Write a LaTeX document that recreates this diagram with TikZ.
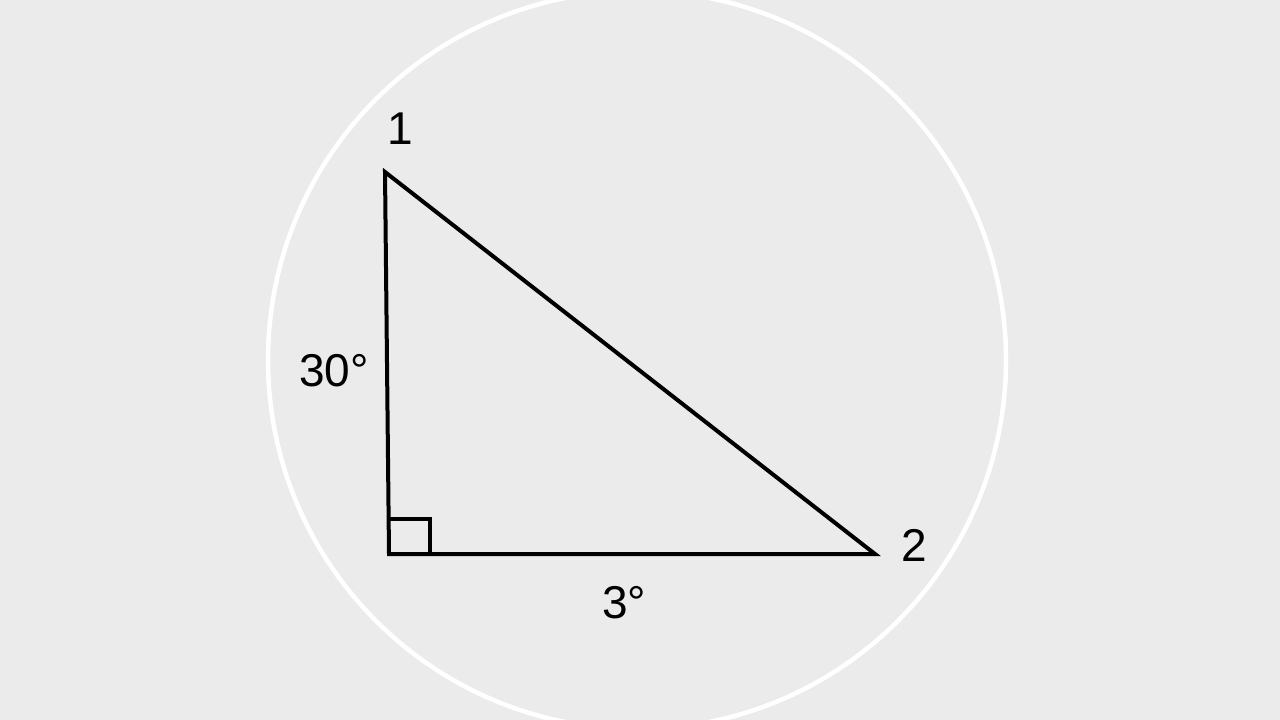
\documentclass[tikz,border=0pt]{standalone}
\usepackage{fontspec}
\setmainfont{Liberation Sans}
\usetikzlibrary{calc}
\definecolor{bggray}{HTML}{EBEBEB}

\begin{document}
\begin{tikzpicture}[x=1pt,y=-1pt,scale=1]

			\fill[bggray] (0, 0) rectangle (1280, 720);
			\useasboundingbox (0, 0) rectangle (1280, 720);

			\coordinate (o) at (637, 360);
			\draw[white,line width=4.5] (o) circle[radius=369];

			\coordinate (a) at (385, 172);
			\coordinate (b) at (389, 554);
			\coordinate (c) at (875, 554);
			\draw[line width=4,black,line join=miter] (a) -- (b) -- (c) -- cycle;
			% right angle mark
			\draw[line width=3.5,black] ($(b)+(0,-35)$) -- ($(b)+(41,-35)$) -- ($(b)+(41,0)$);

			\node[font=\fontsize{46}{46}\selectfont] (n1) at (400, 129) {1};
			\node[font=\fontsize{46}{46}\selectfont] (n2) at (914, 545) {2};
			\node[font=\fontsize{46}{46}\selectfont] (s30) at (334, 371) {30°};
			\node[font=\fontsize{46}{46}\selectfont] (s3) at (624, 603) {3°};

		\end{tikzpicture}
\end{document}
